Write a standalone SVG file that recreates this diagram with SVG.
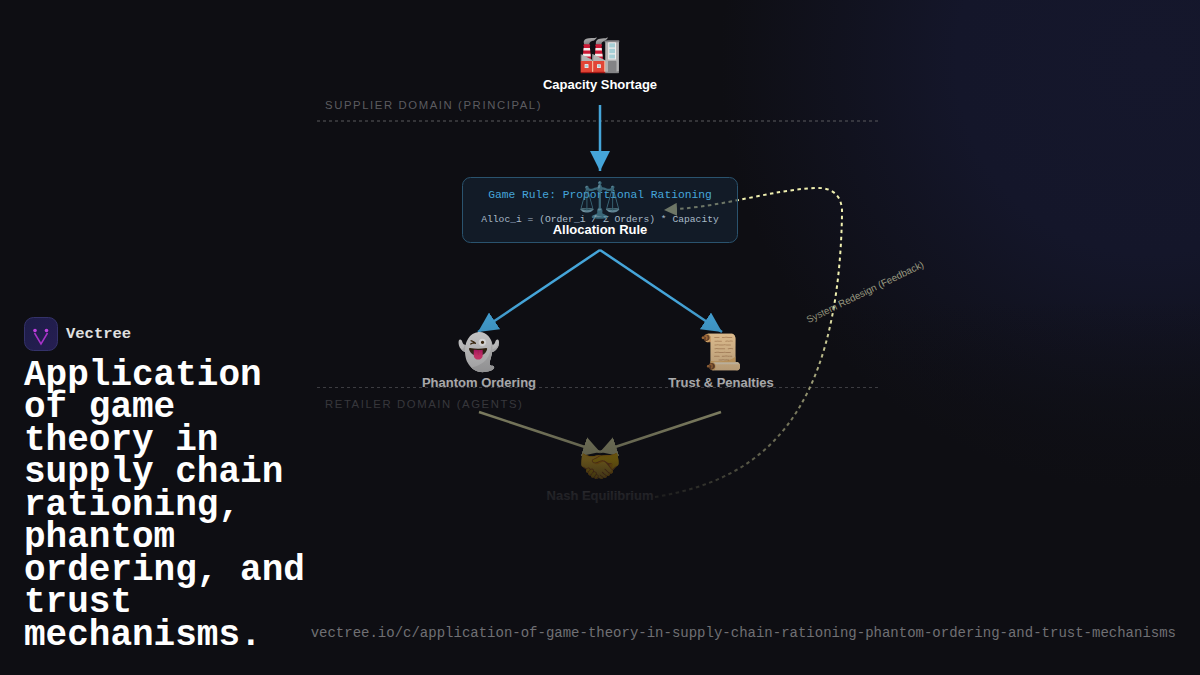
<svg xmlns="http://www.w3.org/2000/svg" width="1200" height="675" viewBox="0 0 1200 675">
<defs>
<radialGradient id="glow" gradientUnits="userSpaceOnUse" cx="1150" cy="60" r="430">
<stop offset="0" stop-color="#15172c"/><stop offset="0.45" stop-color="#14162a"/><stop offset="1" stop-color="#14162a" stop-opacity="0"/>
</radialGradient>
<linearGradient id="fade" x1="0" y1="0" x2="0" y2="1">
<stop offset="0" stop-color="#0e0e13" stop-opacity="0"/>
<stop offset="0.381" stop-color="#0e0e13" stop-opacity="0.35"/>
<stop offset="0.533" stop-color="#0e0e13" stop-opacity="0.52"/>
<stop offset="0.762" stop-color="#0e0e13" stop-opacity="0.65"/>
<stop offset="0.929" stop-color="#0e0e13" stop-opacity="0.92"/>
<stop offset="1" stop-color="#0e0e13" stop-opacity="0.93"/>
</linearGradient>
<linearGradient id="logo" x1="0" y1="0" x2="1" y2="1"><stop offset="0" stop-color="#1d1d48"/><stop offset="1" stop-color="#261e52"/></linearGradient>
<marker id="blue" viewBox="0 0 20 20" refX="20" refY="10" markerUnits="userSpaceOnUse" markerWidth="20" markerHeight="20" orient="auto"><path d="M0 0L20 10L0 20Z" fill="#45a5d9"/></marker>
<marker id="olive" viewBox="0 0 17 20" refX="17" refY="10" markerUnits="userSpaceOnUse" markerWidth="17" markerHeight="20" orient="auto"><path d="M0 0L17 10L0 20Z" fill="#f0f0b0"/></marker>
<marker id="backhead" viewBox="0 0 13 13" refX="13" refY="6.500" markerUnits="userSpaceOnUse" markerWidth="13" markerHeight="13" orient="auto"><path d="M0 0L13 6.500L0 13Z" fill="#f0f0b0"/></marker>
</defs>
<style>
.lab{font:bold 13px "Liberation Sans",Arial,sans-serif;text-anchor:middle;fill:#fff}
.emo{font:35px "Noto Color Emoji","Noto Sans",sans-serif;text-anchor:middle}
.dom{font:11.3px "Liberation Sans",Arial,sans-serif;letter-spacing:1.61px;fill:#5c5c60}
.mono{font-family:"Liberation Mono",monospace}
.blue{fill:none;stroke:#45a5d9;stroke-width:2.5}
.nash{fill:none;stroke:#f0f0b0;stroke-width:2.5}
.sep{stroke:#5a5a5e;stroke-width:1;stroke-dasharray:3 3}
</style>
<rect width="1200" height="675" fill="#0e0e13"/>
<rect width="1200" height="675" fill="url(#glow)"/>
<g id="domains">
<line class="sep" x1="317" y1="121" x2="880" y2="121"/>
<text class="dom" x="325" y="109">SUPPLIER DOMAIN (PRINCIPAL)</text>
<line class="sep" x1="317" y1="387.500" x2="880" y2="387.500"/>
<text class="dom" x="325" y="408">RETAILER DOMAIN (AGENTS)</text>
</g>
<g id="connectors">
<line class="blue" x1="600" y1="105" x2="600" y2="171" marker-end="url(#blue)"/>
<path class="blue" d="M600 250L478 332" marker-end="url(#blue)"/>
<path class="blue" d="M600 250L722 332" marker-end="url(#blue)"/>
<path class="nash" d="M479 412L600 452" marker-end="url(#olive)"/>
<path class="nash" d="M721 412L600 452" marker-end="url(#olive)"/>
<path d="M655 497C760 480 838 420 842 215C843 195 832 187 815 188C770 190 725 207 664 210" fill="none" stroke="#f0f0b0" stroke-width="2" stroke-dasharray="3.500 3.500" marker-end="url(#backhead)"/>
<text x="866.500" y="295" text-anchor="middle" font-family="Liberation Sans,Arial,sans-serif" font-size="9.800" fill="#9a9a80" transform="rotate(-26 866.500 295)">System Redesign (Feedback)</text>
</g>
<g id="allocation-rule">
<rect x="462.500" y="177.500" width="275" height="65" rx="8" fill="#162535" fill-opacity="0.6" stroke="#2a536e" stroke-width="1"/>
<text class="mono" x="600" y="197.500" text-anchor="middle" font-size="11.300" fill="#45a5d9">Game Rule: Proportional Rationing</text>
<text class="mono" x="600" y="222" text-anchor="middle" font-size="9.670" fill="#a8bac8">Alloc_i = (Order_i / Σ Orders) * Capacity</text>
<text class="emo" x="600" y="212" opacity="0.7">⚖️</text>
<text class="lab" x="600" y="234">Allocation Rule</text>
</g>
<g id="capacity-shortage"><text class="emo" x="600" y="66">🏭</text><text class="lab" x="600" y="89">Capacity Shortage</text></g>
<g id="phantom-ordering"><text class="emo" x="479" y="364">👻</text><text class="lab" x="479" y="387">Phantom Ordering</text></g>
<g id="trust-penalties"><text class="emo" x="721" y="364">📜</text><text class="lab" x="721" y="387">Trust &amp; Penalties</text></g>
<g id="nash-equilibrium"><text class="emo" x="600" y="478">🤝</text><text class="lab" x="600" y="500">Nash Equilibrium</text></g>
<rect id="fade-overlay" x="0" y="300" width="1200" height="210" fill="url(#fade)"/>
<rect x="0" y="510" width="1200" height="165" fill="#0e0e13" fill-opacity="0.93"/>
<g id="brand">
<rect x="24.500" y="317.500" width="33" height="33" rx="9" fill="url(#logo)" stroke="#34326a"/>
<path d="M34.500 333L41 344L47.500 333" fill="none" stroke="#a832c8" stroke-width="1.500"/>
<circle cx="35" cy="330.500" r="1.800" fill="#c040e0"/><circle cx="46.500" cy="330.500" r="1.800" fill="#c040e0"/>
<text class="mono" x="66" y="338" font-size="15.500" font-weight="bold" fill="#e0e0e0">Vectree</text>
</g>
<g id="title" class="mono" font-size="36" font-weight="bold" fill="#fff">
<text x="24" y="384.500">Application</text>
<text x="24" y="417">of game</text>
<text x="24" y="449.500">theory in</text>
<text x="24" y="482">supply chain</text>
<text x="24" y="514.500">rationing,</text>
<text x="24" y="547">phantom</text>
<text x="24" y="579.500">ordering, and</text>
<text x="24" y="612">trust</text>
<text x="24" y="644.500">mechanisms.</text>
</g>
<text id="url" class="mono" x="1176" y="637" text-anchor="end" font-size="14" fill="#707074">vectree.io/c/application-of-game-theory-in-supply-chain-rationing-phantom-ordering-and-trust-mechanisms</text>
</svg>
